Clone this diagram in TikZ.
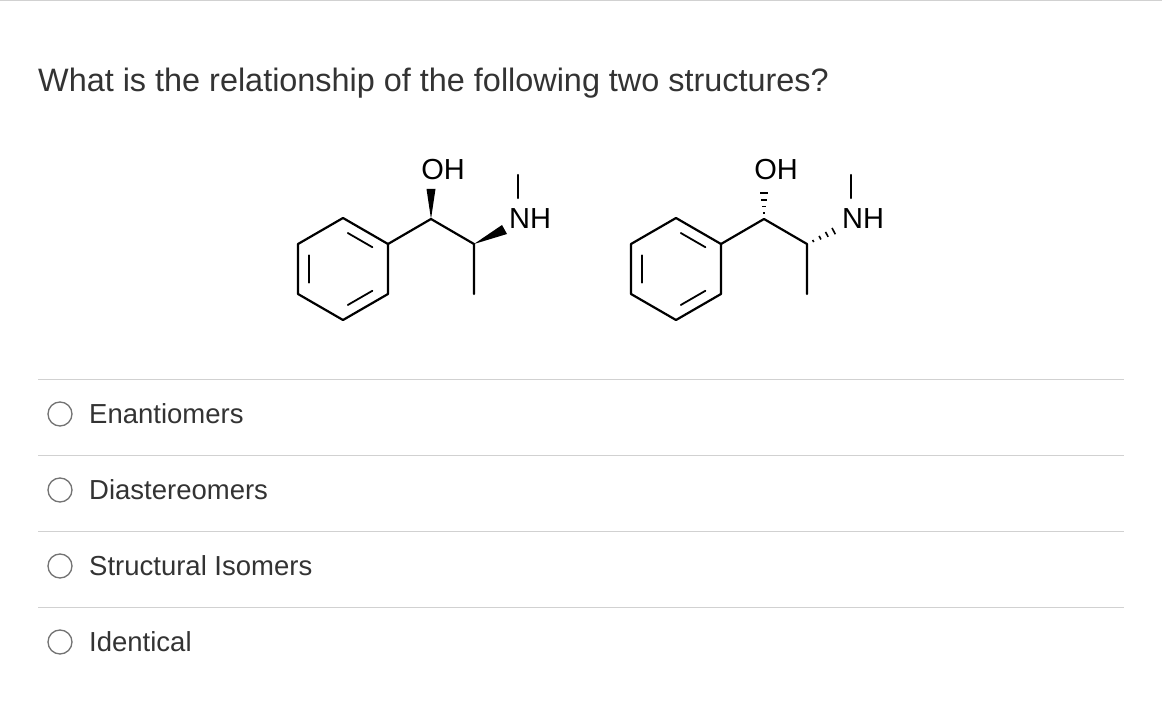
\documentclass[tikz,border=0pt]{standalone}
\usepackage{fontspec}
\setmainfont{Liberation Sans}
\usetikzlibrary{calc}
\begin{document}
\begin{tikzpicture}[x=1pt,y=-1pt,
  bond/.style={line width=2.2pt,line cap=round,line join=round},
  sep/.style={draw=black!18,line width=1pt},
  radio/.style={circle,draw=black!55,line width=1.3pt,minimum size=24pt,inner sep=0pt},
  opt/.style={anchor=west,font=\fontsize{27.5}{30}\selectfont,text=black!80,inner sep=0pt},
  atom/.style={font=\fontsize{29}{30}\selectfont,inner sep=0pt}]
\useasboundingbox (0,0) rectangle (1162,722);
\fill[white] (0,0) rectangle (1162,722);
\draw[sep] (0,1) -- (1162,1);
\node[anchor=west,inner sep=0pt,font=\fontsize{32.4}{35}\selectfont,text=black!80] (title) at (38,83) {What is the relationship of the following two structures?};
\foreach \dx/\m in {0/1,333/2}{
\begin{scope}[shift={(\dx,0)}]
\coordinate (c\m) at (343,269);
\coordinate (a1) at (343,218); \coordinate (a2) at (388,244); \coordinate (a3) at (388,294);
\coordinate (a4) at (343,320); \coordinate (a5) at (298,294); \coordinate (a6) at (298,244);
\draw[bond] (a1)--(a2)--(a3)--(a4)--(a5)--(a6)--cycle;
\foreach \p/\q in {a1/a2,a3/a4,a5/a6}{
  \draw[bond,line width=1.8pt] ($(c\m)!0.76!($(\p)!0.14!(\q)$)$) -- ($(c\m)!0.76!($(\q)!0.14!(\p)$)$);
}
\coordinate (C1\m) at (431,219); \coordinate (C2\m) at (474,244); \coordinate (Me\m) at (474,294);
\draw[bond] (a2) -- (C1\m) -- (C2\m) -- (Me\m);
\node[atom] (OH\m) at (443,170) {OH};
\node[atom] (NH\m) at (530,219) {NH};
\coordinate (NMe\m) at (518,175);
\coordinate (NMeE\m) at (518,198);
\draw[bond] (NMe\m) -- (NMeE\m);
\end{scope}}
% wedges (molecule 1)
\fill (C11) -- (426.5,189) -- (435.5,189) -- cycle;
\fill (C21) -- (502,225) -- (507,234) -- cycle;
% hashes (molecule 2)
\foreach \t/\w in {0.2/1.2,0.42/2,0.64/2.8,0.86/3.6}{
  \draw[line width=1.6pt] ($(C12)!\t!(764,189)+(-\w,0)$) -- ($(C12)!\t!(764,189)+(\w,0)$);
  \draw[line width=1.6pt] ($(C22)!\t!(838,229)+(-0.47*\w,-0.88*\w)$) -- ($(C22)!\t!(838,229)+(0.47*\w,0.88*\w)$);
}
% options
\foreach \y/\txt/\n in {414/Enantiomers/1,490/Diastereomers/2,566/Structural Isomers/3,642/Identical/4}{
  \draw[sep] (38,\y-35) -- (1124,\y-35);
  \node[radio] (r\n) at (60,\y) {};
  \node[opt] (o\n) at (89,\y) {\txt};
}
\end{tikzpicture}
\end{document}
